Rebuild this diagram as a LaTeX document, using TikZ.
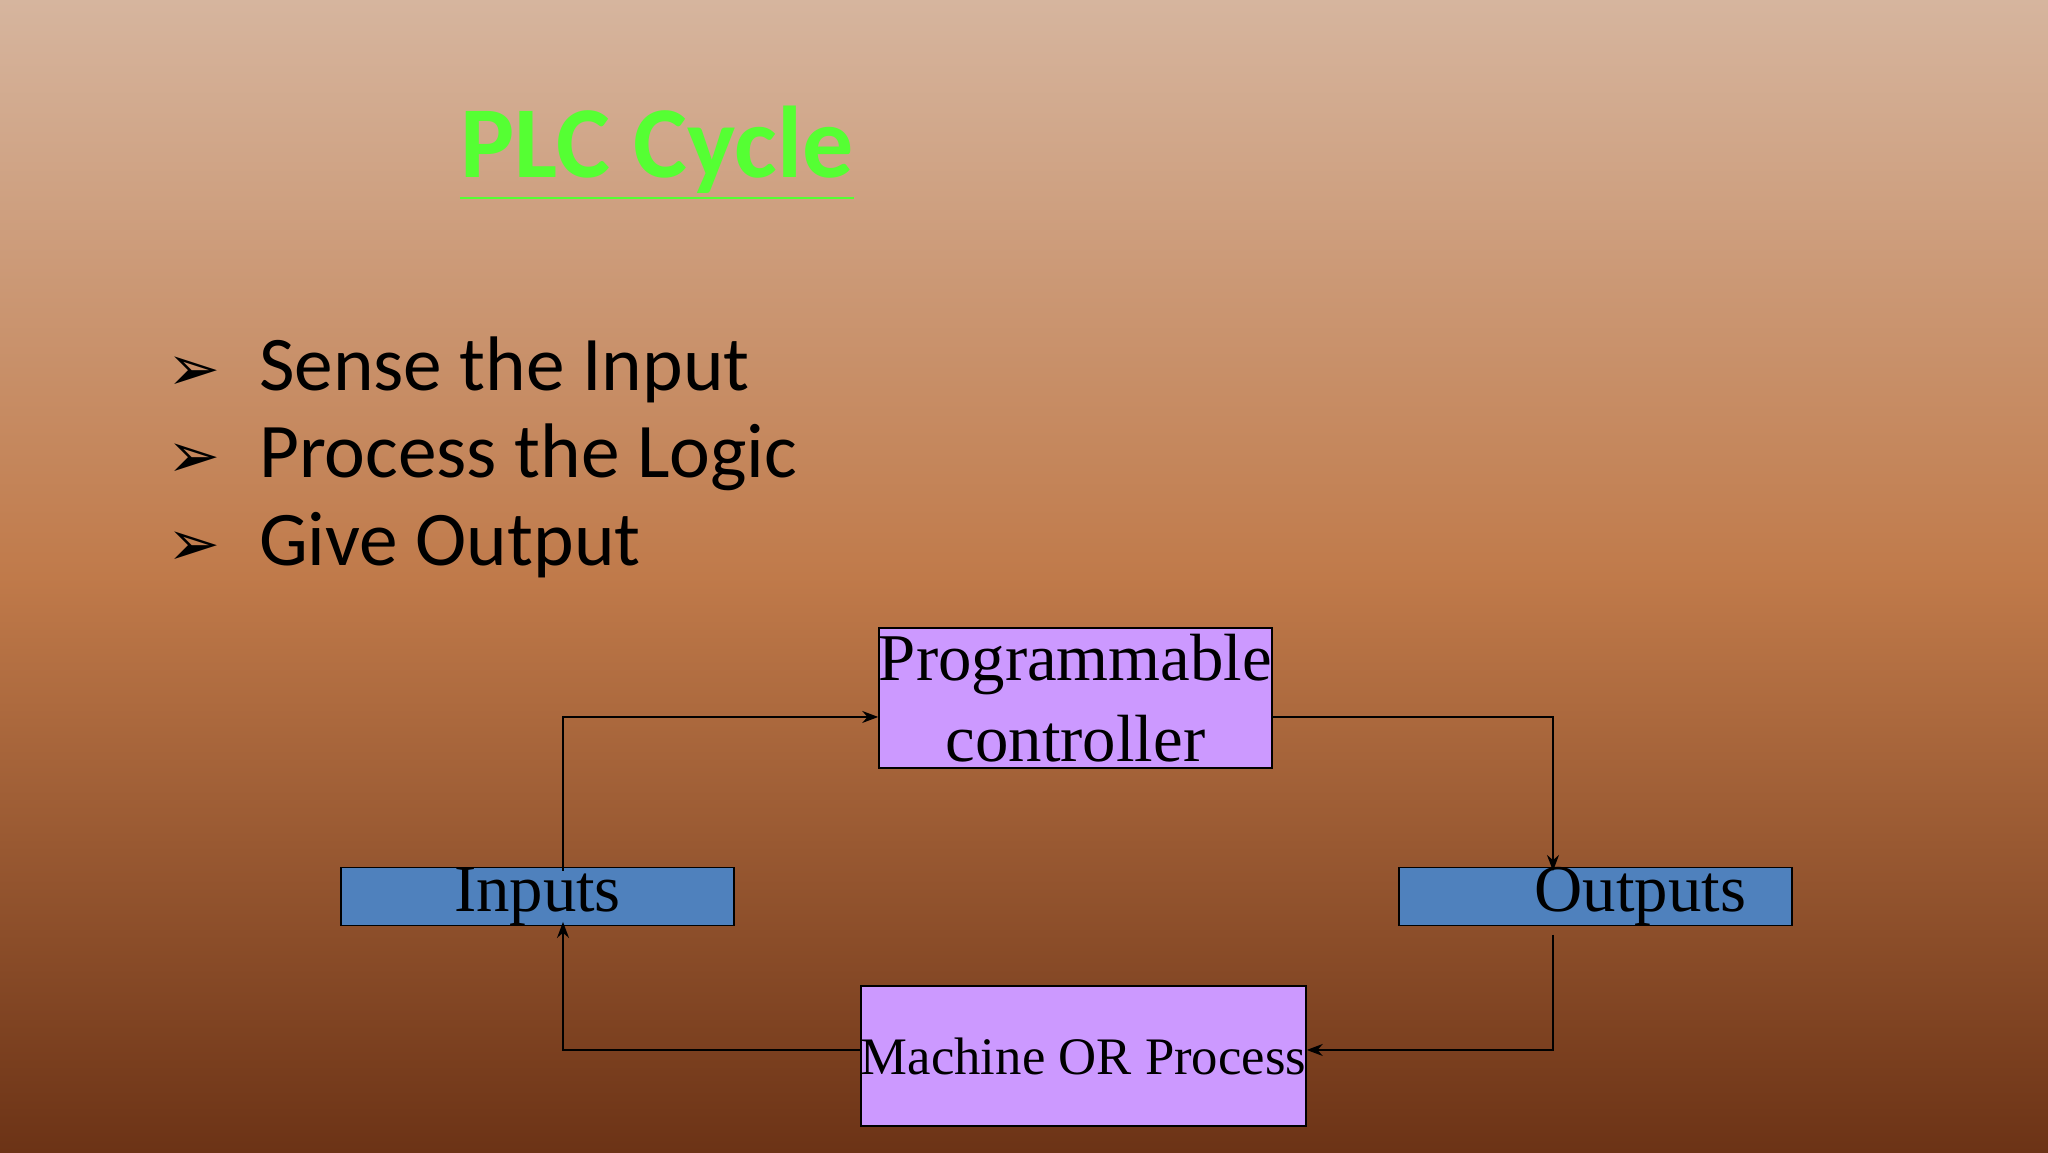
\documentclass[tikz,border=0pt]{standalone}
\usepackage{fontspec}
\setmainfont{Liberation Serif}
\newfontfamily\slidefont{Carlito}
\newfontfamily\symfont{DejaVu Sans}
\usepackage{xcolor}
\usetikzlibrary{arrows.meta,positioning}
\definecolor{bgtop}{HTML}{D6B59E}
\definecolor{bgmid}{HTML}{C07A4A}
\definecolor{bgbot}{HTML}{6C3316}
\definecolor{lavender}{HTML}{CC99FF}
\definecolor{steelblue}{HTML}{4F81BD}
\definecolor{titlegreen}{HTML}{55FF33}

\begin{document}
\begin{tikzpicture}[
    box/.style={draw, minimum width=3.75cm, minimum height=1.4cm, align=center, fill=lavender, inner sep=0pt},
    bar/.style={draw, minimum width=3.93cm, minimum height=0.51cm, fill=steelblue, inner sep=0pt, font=\fontsize{19}{19}\selectfont},
    bullet/.style={anchor=west, font=\slidefont\fontsize{22}{22}\selectfont},
    arrow/.style={-{Stealth[length=1.6mm, width=1.2mm]}, thin}
]
    \shade[top color=bgtop, bottom color=bgbot, middle color=bgmid, shading angle=0] (0,0) rectangle (20.48,11.53);
    \useasboundingbox (0,0) rectangle (20.48,11.53);

    \node[text=titlegreen, font=\slidefont\bfseries\fontsize{29}{29}\selectfont] (title) at (6.57,10.0) {\underline{PLC Cycle}};

    \node[bullet] (b1) at (1.55,7.83) {{\symfont\fontsize{18}{18}\selectfont ➢}\enspace Sense the Input};
    \node[bullet] (b2) at (1.55,6.96) {{\symfont\fontsize{18}{18}\selectfont ➢}\enspace Process the Logic};
    \node[bullet] (b3) at (1.55,6.08) {{\symfont\fontsize{18}{18}\selectfont ➢}\enspace Give Output};

    \node[box, font=\fontsize{19}{23}\selectfont] (pc) at (10.755,4.55) {Programmable\\controller};
    \node[bar] (in) at (5.375,2.565) {Inputs};
    \node[bar] (out) at (15.955,2.565) {\hspace*{0.9cm}Outputs};
    \node[box, minimum width=3.91cm, font=\fontsize{15}{15}\selectfont] (mp) at (10.835,0.97) {\raisebox{-2mm}{Machine OR Process}};

    \coordinate (outlow) at (15.53,2.18);

    \draw[arrow] (5.63,2.82) |- (pc.west |- 0,4.36);
    \draw[arrow] (pc.east |- 0,4.36) -| (15.53,2.82);
    \draw[arrow] (outlow) |- (mp.east |- 0,1.03);
    \draw[arrow] (mp.west |- 0,1.03) -| (5.63,2.31);
\end{tikzpicture}
\end{document}
